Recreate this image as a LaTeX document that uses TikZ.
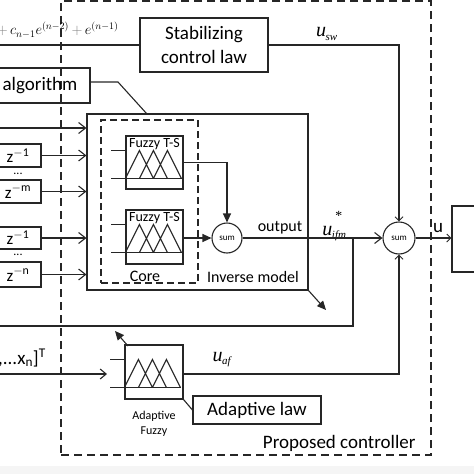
\documentclass[tikz,border=0pt]{standalone}
\usepackage{fontspec}
\setmainfont{Carlito}
\newfontfamily\tms{Liberation Serif}
\usetikzlibrary{arrows.meta,calc}
\newcommand\fuzzyin[1]{%
\begin{scope}[shift={(#1.north west)}]
\draw[ln] (-14,15) -- (0,15);
\draw[ln] (-14,43) -- (57,43);
\draw[ln] (0,43) -- (14,15) -- (28,43) (14,43) -- (28,15) -- (42,43) (28,43) -- (42,15) -- (56,43);
\end{scope}}
\newcommand\iu[2]{{\tms\itshape #1\textsubscript{\kern-0.5pt\fontsize{11}{12}\selectfont #2}}}
\begin{document}
\begin{tikzpicture}[x=1pt,y=-1pt,
  ln/.style={line width=1.1pt, draw=black!85},
  box/.style={ln, rectangle, inner sep=0pt},
  dbox/.style={box, dash pattern=on 8pt off 5pt},
  oarr/.style={-{Straight Barb[length=7pt,width=11pt,line width=1.1pt]}},
  sarr/.style={-{Straight Barb[length=4pt,width=8pt,line width=1pt]}},
  farr/.style={-{Triangle[length=9pt,width=8pt]}},
  big/.style={font=\fontsize{19}{24}\selectfont},
  mid/.style={font=\fontsize{16}{19}\selectfont},
  mth/.style={font=\fontsize{20}{22}\selectfont},
  ]
\useasboundingbox (0,0) rectangle (474,474);
\clip (0,0) rectangle (474,474);
\fill[gray!8] (0,466) rectangle (474,474);

% outer controller box
\node[dbox, minimum width=370pt, minimum height=454pt] (outer) at (246,228) {};
\node[big, anchor=east] (plab) at (419,443) {Proposed controller};

% blocks
\node[box, big, align=center, minimum width=128pt, minimum height=54pt] (stab) at (204,45) {Stabilizing\\control law};
\node[box, big, minimum width=100pt, minimum height=35pt] (algo) at (40,85.5) {algorithm};
\node[box, minimum width=221pt, minimum height=176pt] (inv) at (197.5,202) {};
\node[box, dash pattern=on 7pt off 4pt, minimum width=97pt, minimum height=163pt] (core) at (149.5,201.5) {};
\node[box, minimum width=57pt, minimum height=53pt] (fz1) at (154.5,162.5) {};
\node[box, minimum width=57pt, minimum height=54pt] (fz2) at (154.5,237) {};
\fuzzyin{fz1}
\fuzzyin{fz2}
\node[font=\fontsize{14}{15}\selectfont] (fz1t) at (154.5,144) {Fuzzy T-S};
\node[font=\fontsize{14}{15}\selectfont] (fz2t) at (154.5,218) {Fuzzy T-S};
\node[ln, circle, minimum size=30pt, inner sep=0pt, font=\fontsize{9}{10}\selectfont] (sum1) at (227,238) {sum};
\node[ln, circle, minimum size=32pt, inner sep=0pt, font=\fontsize{9}{10}\selectfont] (sum2) at (399,238) {sum};
\node[box, minimum width=38pt, minimum height=66pt] (plant) at (471,239) {};

\node[mid] (corel) at (145,276) {Core};
\node[mid] (invl) at (253,277) {Inverse model};
\node[mid] (outl) at (280,228) {output};

% delay blocks
\node[box, minimum width=46pt, minimum height=23pt, font=\fontsize{17}{18}\selectfont] (z1) at (18,155.5) {$\mathrm{z}^{\mathrm{-1}}$};
\node[box, minimum width=46pt, minimum height=23pt, font=\fontsize{17}{18}\selectfont] (zm) at (18,191.5) {$\mathrm{z}^{\mathrm{-m}}$};
\node[box, minimum width=46pt, minimum height=22pt, font=\fontsize{17}{18}\selectfont] (zn1) at (18,238) {$\mathrm{z}^{\mathrm{-1}}$};
\node[box, minimum width=46pt, minimum height=25pt, font=\fontsize{17}{18}\selectfont] (zn) at (18,274.5) {$\mathrm{z}^{\mathrm{-n}}$};
\node[font=\fontsize{12}{12}\selectfont] (d1) at (18,174) {...};
\node[font=\fontsize{12}{12}\selectfont] (d2) at (18,255) {...};

% adaptive part
\node[box, minimum width=58pt, minimum height=54pt] (af) at (154,372) {};
\fuzzyin{af}
\node[font=\fontsize{12}{15}\selectfont, align=center] (afl) at (154,424) {Adaptive\\Fuzzy};
\node[box, big, minimum width=128pt, minimum height=28pt] (alaw) at (257,410) {Adaptive law};

% text labels
\node[font=\fontsize{14}{16}\selectfont, anchor=east] (err) at (122,30) {${\color{gray}+}\,c_{n-1}e^{(n-2)}\,{\color{gray}+}\,e^{(n-1)}$};
\node[big, anchor=east, inner sep=0pt] (xvec) at (46,358) {,...x\textsubscript{n}]\textsuperscript{T}};
\node[mth] (usw) at (327,34) {\iu{u}{sw}};
\node[mth] (uifm) at (332,226) {{\tms\itshape u\textsubscript{\kern-0.5pt\fontsize{11}{12}\selectfont ifm}\kern-12pt\raisebox{1.6ex}{\fontsize{14}{14}\selectfont *}}};
\node[mth] (uaf) at (222,360) {\iu{u}{af}};
\node[font=\fontsize{19}{19}\selectfont] (ul) at (438,228) {u};

% coordinates
\coordinate (cin) at (-5,45);
\coordinate (in0) at (-5,128);
\coordinate (algoa) at (118,82);
\coordinate (algob) at (147,114);
\coordinate (fb) at (-5,326);
\coordinate (jn) at (353,238);
\coordinate (xin) at (-5,374);
\coordinate (xend) at (107,374);
\coordinate (afa) at (128,346);
\coordinate (afb) at (115,331);
\coordinate (invb) at (326,310);

% connectors
\draw[ln] (cin) -- (stab.west);
\draw[ln] (algo.east |- algoa) -- (algoa) -- (algob);
\draw[ln, oarr] (in0) -- (in0 -| inv.west);
\draw[ln, oarr] (z1.east) -- (z1.east -| inv.west);
\draw[ln, oarr] (zm.east) -- (zm.east -| inv.west);
\draw[ln, oarr] (zn1.east) -- (zn1.east -| inv.west);
\draw[ln, oarr] (zn.east) -- (zn.east -| inv.west);
\draw[ln, farr] (fz1.east) -- (fz1.east -| sum1.north) -- (sum1.north);
\draw[ln, farr] (fz2.east |- sum1.west) -- (sum1.west);
\draw[ln] (sum1.east) -- (sum1.east -| inv.east);
\draw[ln, line width=1.5pt, oarr] (sum1.east -| inv.east) -- (sum2.west);
\draw[ln] (jn) -- (jn |- fb) -- (fb);
\draw[ln, sarr] (stab.east) -- (stab.east -| sum2.north) -- (sum2.north);
\draw[ln, sarr] (af.east |- xin) -- (xin -| sum2.south) -- (sum2.south);
\draw[ln, sarr] (sum2.east) -- (sum2.east -| plant.west);
\draw[ln, -{Straight Barb[length=6pt,width=10pt,line width=1.1pt]}] (xin) -- (xend);
\draw[ln, farr] (afa) -- (afb);
\draw[ln] (af.south east) -- (alaw.west);
\draw[ln, farr] (inv.south east) -- (invb);
\end{tikzpicture}
\end{document}
